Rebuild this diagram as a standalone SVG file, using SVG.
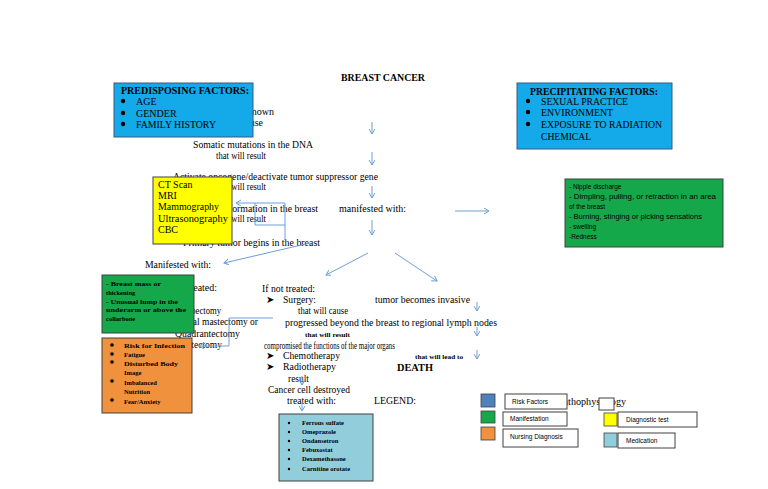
<svg xmlns="http://www.w3.org/2000/svg" width="768" height="489" viewBox="0 0 768 489">
<defs>
<marker id="ah" markerWidth="8" markerHeight="8" refX="5" refY="3" orient="auto" markerUnits="userSpaceOnUse">
<path d="M0,0 L5,3 L0,6" fill="none" stroke="#6f9fd8" stroke-width="1"/>
</marker>
</defs>
<style>
.t{font-family:"Liberation Serif","Times New Roman",serif;font-size:10px;fill:#000}
.b{font-weight:bold}
.s{font-family:"Liberation Sans",Arial,sans-serif;font-size:6.5px;fill:#000}
.sm{font-family:"Liberation Serif",serif;font-size:6.5px;font-weight:bold;fill:#000}
.c{fill:none;stroke:#6f9fd8;stroke-width:1}
.box{stroke:#3a5a80;stroke-width:1}
.lb{fill:#fff;stroke:#404040;stroke-width:1}
</style>
<rect width="768" height="489" fill="#fff"/>

<g id="flowtext">
<text class="t b" x="341" y="81" textLength="84" lengthAdjust="spacingAndGlyphs">BREAST CANCER</text>
<text class="t" x="274" y="115" text-anchor="end">Cause is unknown</text>
<text class="t" x="263" y="126" text-anchor="end" font-size="8">cause</text>
<text class="t" x="193" y="148" textLength="120" lengthAdjust="spacingAndGlyphs">Somatic mutations in the DNA</text>
<text class="t" x="216" y="159" font-size="8.5" textLength="50" lengthAdjust="spacingAndGlyphs">that will result</text>
<text class="t" x="173" y="180" textLength="205" lengthAdjust="spacingAndGlyphs">Activate oncogene/deactivate tumor suppressor gene</text>
<text class="t" x="216" y="190" font-size="8.5" textLength="50" lengthAdjust="spacingAndGlyphs">that will result</text>
<text class="t" x="170" y="212" textLength="148" lengthAdjust="spacingAndGlyphs">Abnormal cell formation in the breast</text>
<text class="t" x="216" y="222" font-size="8.5" textLength="50" lengthAdjust="spacingAndGlyphs">that will result</text>
<text class="t" x="339" y="212" textLength="67" lengthAdjust="spacingAndGlyphs">manifested with:</text>
<text class="t" x="183" y="246" textLength="137" lengthAdjust="spacingAndGlyphs">Primary tumor begins in the breast</text>
<text class="t" x="145" y="268" textLength="66" lengthAdjust="spacingAndGlyphs">Manifested with:</text>

<text class="t" x="178" y="291" textLength="39" lengthAdjust="spacingAndGlyphs">If treated:</text>
<text class="t" x="175" y="314" textLength="46" lengthAdjust="spacingAndGlyphs">Lumpectomy</text>
<text class="t" x="175" y="325" textLength="83" lengthAdjust="spacingAndGlyphs">Partial mastectomy or</text>
<text class="t" x="175" y="337" textLength="65" lengthAdjust="spacingAndGlyphs">Quadrantectomy</text>
<text class="t" x="175" y="348" textLength="47" lengthAdjust="spacingAndGlyphs">Mastectomy</text>

<text class="t" x="262" y="292" textLength="53" lengthAdjust="spacingAndGlyphs">If not treated:</text>
<text class="t" x="266" y="303" font-size="8">➤</text>
<text class="t" x="283" y="303" textLength="33" lengthAdjust="spacingAndGlyphs">Surgery:</text>
<text class="t" x="375" y="303" textLength="95" lengthAdjust="spacingAndGlyphs">tumor becomes invasive</text>
<text class="t" x="298" y="314" font-size="8" textLength="50" lengthAdjust="spacingAndGlyphs">that will cause</text>
<text class="t" x="285" y="326" textLength="212" lengthAdjust="spacingAndGlyphs">progressed beyond the breast to regional lymph nodes</text>
<text class="sm" x="305" y="337" textLength="45" lengthAdjust="spacingAndGlyphs">that will result</text>
<text class="t" x="264" y="349" textLength="131" lengthAdjust="spacingAndGlyphs">compromised the functions of the major organs</text>
<text class="t" x="266" y="359" font-size="8">➤</text>
<text class="t" x="283" y="359" textLength="57" lengthAdjust="spacingAndGlyphs">Chemotherapy</text>
<text class="sm" x="415" y="359" textLength="48" lengthAdjust="spacingAndGlyphs">that will lead to</text>
<text class="t" x="266" y="370" font-size="8">➤</text>
<text class="t" x="283" y="370" textLength="53" lengthAdjust="spacingAndGlyphs">Radiotherapy</text>
<text class="t b" x="397" y="371" textLength="36" lengthAdjust="spacingAndGlyphs">DEATH</text>
<text class="t" x="288" y="382" font-size="8.5" textLength="21" lengthAdjust="spacingAndGlyphs">result</text>
<text class="t" x="268" y="393" textLength="82" lengthAdjust="spacingAndGlyphs">Cancer cell destroyed</text>
<text class="t" x="287" y="404" textLength="49" lengthAdjust="spacingAndGlyphs">treated with:</text>
<text class="t" x="374" y="404" textLength="42" lengthAdjust="spacingAndGlyphs">LEGEND:</text>
<text class="t" x="558" y="405" textLength="68" lengthAdjust="spacingAndGlyphs">Pathophysiology</text>
</g>

<g id="connectors">
<line class="c" x1="372" y1="122" x2="372" y2="134" marker-end="url(#ah)"/>
<line class="c" x1="372" y1="152" x2="372" y2="165" marker-end="url(#ah)"/>
<line class="c" x1="372" y1="186" x2="372" y2="198" marker-end="url(#ah)"/>
<line class="c" x1="372" y1="220" x2="372" y2="235" marker-end="url(#ah)"/>
<line class="c" x1="455" y1="211" x2="489" y2="211" marker-end="url(#ah)"/>
<line class="c" x1="368" y1="253" x2="326" y2="275" marker-end="url(#ah)"/>
<line class="c" x1="395" y1="253" x2="437" y2="281" marker-end="url(#ah)"/>
<path class="c" d="M255,203 H236" marker-end="url(#ah)"/>
<path class="c" d="M255,203 V225 H285 M255,203 H285 V240"/>
<line class="c" x1="310" y1="243" x2="224" y2="263" marker-end="url(#ah)"/>
<path class="c" d="M273,318 H229 V346 H199" marker-end="url(#ah)"/>
<line class="c" x1="477" y1="302" x2="477" y2="311" marker-end="url(#ah)"/>
<line class="c" x1="477" y1="327" x2="477" y2="336" marker-end="url(#ah)"/>
<line class="c" x1="477" y1="350" x2="477" y2="359" marker-end="url(#ah)"/>
<line class="c" x1="302" y1="376" x2="302" y2="385" marker-end="url(#ah)"/>
<line class="c" x1="302" y1="402" x2="302" y2="411" marker-end="url(#ah)"/>
</g>

<g id="predisposing">
<rect class="box" x="114" y="83" width="139" height="54" fill="#14a9e8"/>
<text class="t b" x="121" y="94" textLength="128" lengthAdjust="spacingAndGlyphs">PREDISPOSING FACTORS:</text>
<circle cx="123" cy="101" r="2.2"/><circle cx="123" cy="113" r="2.2"/><circle cx="123" cy="124" r="2.2"/>
<text class="t" x="136" y="105">AGE</text>
<text class="t" x="136" y="117">GENDER</text>
<text class="t" x="136" y="128" textLength="80" lengthAdjust="spacingAndGlyphs">FAMILY HISTORY</text>
</g>

<g id="precipitating">
<rect class="box" x="517" y="83" width="155" height="66" fill="#14a9e8"/>
<text class="t b" x="530" y="95" textLength="128" lengthAdjust="spacingAndGlyphs">PRECIPITATING FACTORS:</text>
<circle cx="528" cy="101" r="2.2"/><circle cx="528" cy="112" r="2.2"/><circle cx="528" cy="124" r="2.2"/>
<text class="t" x="541" y="105" textLength="87" lengthAdjust="spacingAndGlyphs">SEXUAL PRACTICE</text>
<text class="t" x="541" y="116" textLength="72" lengthAdjust="spacingAndGlyphs">ENVIRONMENT</text>
<text class="t" x="541" y="128" textLength="121" lengthAdjust="spacingAndGlyphs">EXPOSURE TO RADIATION</text>
<text class="t" x="541" y="140" textLength="50" lengthAdjust="spacingAndGlyphs">CHEMICAL</text>
</g>

<g id="diagnostics">
<rect x="153" y="177" width="79" height="67" fill="#ffff00" stroke="#404040" stroke-width="1"/>
<text class="t" x="158" y="188">CT Scan</text>
<text class="t" x="158" y="199">MRI</text>
<text class="t" x="158" y="210" textLength="61" lengthAdjust="spacingAndGlyphs">Mammography</text>
<text class="t" x="158" y="222" textLength="70" lengthAdjust="spacingAndGlyphs">Ultrasonography</text>
<text class="t" x="158" y="233">CBC</text>
</g>

<g id="manifestation-right">
<rect x="565" y="179" width="158" height="68" fill="#14a84a" stroke="#404040" stroke-width="1"/>
<text class="s" x="569" y="189">- Nipple discharge</text>
<text class="s" x="569" y="199" textLength="147" lengthAdjust="spacingAndGlyphs">- Dimpling, pulling, or retraction in an area</text>
<text class="s" x="569" y="209">of the breast</text>
<text class="s" x="569" y="219" textLength="133" lengthAdjust="spacingAndGlyphs">- Burning, stinging or picking sensations</text>
<text class="s" x="569" y="229">- swelling</text>
<text class="s" x="569" y="239">-Redness</text>
</g>

<g id="manifestation-left">
<rect x="102" y="275" width="92" height="58" fill="#14a84a" stroke="#404040" stroke-width="1"/>
<text class="sm" x="106" y="286" font-size="7.5" textLength="55" lengthAdjust="spacingAndGlyphs">- Breast mass or</text>
<text class="sm" x="106" y="295" font-size="7.5">thickening</text>
<text class="sm" x="106" y="304" font-size="7.5" textLength="72" lengthAdjust="spacingAndGlyphs">- Unusual lump in the</text>
<text class="sm" x="106" y="312" font-size="7.5" textLength="80" lengthAdjust="spacingAndGlyphs">underarm or above the</text>
<text class="sm" x="106" y="321" font-size="7.5">collarbone</text>
</g>

<g id="nursing">
<rect x="102" y="338" width="90" height="75" fill="#f0913e" stroke="#404040" stroke-width="1"/>
<circle cx="112" cy="345" r="1.8"/><circle cx="112" cy="354" r="1.8"/><circle cx="112" cy="362" r="1.8"/><circle cx="112" cy="381" r="1.8"/><circle cx="112" cy="400" r="1.8"/>
<text class="sm" x="124" y="348" font-size="7.5" textLength="61" lengthAdjust="spacingAndGlyphs">Risk for Infection</text>
<text class="sm" x="124" y="357" font-size="7.5">Fatigue</text>
<text class="sm" x="124" y="366" font-size="7.5" textLength="54" lengthAdjust="spacingAndGlyphs">Disturbed Body</text>
<text class="sm" x="124" y="375" font-size="7.5">Image</text>
<text class="sm" x="124" y="385" font-size="7.5">Imbalanced</text>
<text class="sm" x="124" y="394" font-size="7.5">Nutrition</text>
<text class="sm" x="124" y="404" font-size="7.5">Fear/Anxiety</text>
</g>

<g id="medication">
<rect x="279" y="414" width="94" height="67" fill="#92cddc" stroke="#404040" stroke-width="1"/>
<circle cx="289" cy="423" r="1.2"/><circle cx="289" cy="432" r="1.2"/><circle cx="289" cy="441" r="1.2"/><circle cx="289" cy="450" r="1.2"/><circle cx="289" cy="459" r="1.2"/><circle cx="289" cy="469" r="1.2"/>
<text class="sm" x="302" y="425" font-size="6.5">Ferrous sulfate</text>
<text class="sm" x="302" y="434" font-size="6.5">Omeprazole</text>
<text class="sm" x="302" y="443" font-size="6.5">Ondansetron</text>
<text class="sm" x="302" y="452" font-size="6.5">Febuxostat</text>
<text class="sm" x="302" y="461" font-size="6.5">Dexamethasone</text>
<text class="sm" x="302" y="471" font-size="6.5">Carnitine orotate</text>
</g>

<g id="legend">
<rect x="481" y="394" width="14" height="13" fill="#4f81bd" stroke="#404040" stroke-width="0.8"/>
<rect x="481" y="411" width="14" height="12" fill="#14a84a" stroke="#404040" stroke-width="0.8"/>
<rect x="481" y="427" width="14" height="13" fill="#f0913e" stroke="#404040" stroke-width="0.8"/>
<rect class="lb" x="505" y="394" width="62" height="15"/>
<text class="s" x="512" y="404" font-size="6">Risk Factors</text>
<rect class="lb" x="503" y="412" width="64" height="14"/>
<text class="s" x="510" y="421" font-size="6">Manifestation</text>
<rect class="lb" x="503" y="429" width="75" height="18"/>
<text class="s" x="510" y="439" font-size="6">Nursing Diagnosis</text>
<rect class="lb" x="599" y="398" width="15" height="12"/>
<rect x="604" y="413" width="13" height="13" fill="#ffff00" stroke="#404040" stroke-width="0.8"/>
<rect class="lb" x="618" y="412" width="79" height="15"/>
<text class="s" x="626" y="422" font-size="6">Diagnostic test</text>
<rect x="604" y="433" width="13" height="14" fill="#92cddc" stroke="#404040" stroke-width="0.8"/>
<rect class="lb" x="618" y="433" width="57" height="15"/>
<text class="s" x="626" y="443" font-size="6">Medication</text>
</g>
</svg>
